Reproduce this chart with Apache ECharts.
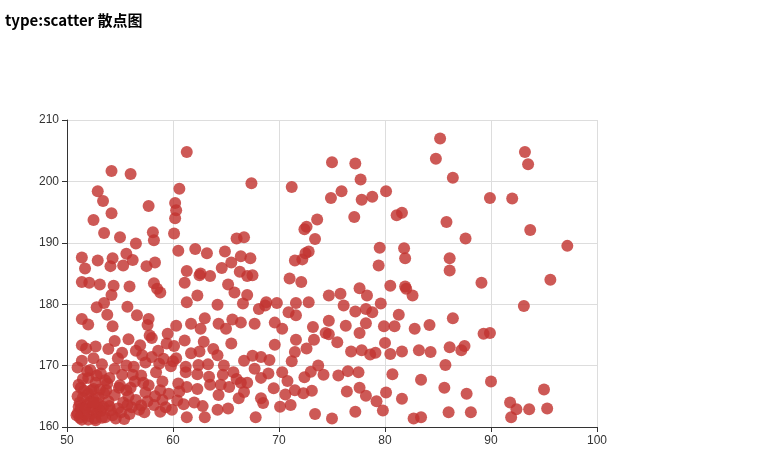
<!DOCTYPE html>
<html><head><meta charset="utf-8">
<script src="https://cdn.jsdelivr.net/npm/echarts@6/dist/echarts.min.js"></script>
</head><body style="margin:0">
<div id="c" style="width:780px;height:462px"></div>
<script>
const titleText = 'type:scatter 散点图';
const xTicks = [50, 100, 10];
const yTicks = [160, 210, 10];
const pointsTop = [
[61.3,204.8],[85.2,207],[84.8,203.7],[75,203.1],[77.2,202.9],[93.2,204.8],[93.5,202.8],[86.4,200.6],[77.7,200.3],[67.4,199.7],
[71.2,199.1],[60.6,198.8],[54.2,201.7],[56,201.2],[52.9,198.4],[53.4,196.8],[57.7,196],[60.2,196.5],[60.3,195.3],[60.2,194],
[60.1,191.5],[54.2,194.8],[52.5,193.7],[53.5,191.6],[55,190.9],[75.9,198.4],[74.9,197.3],[77.8,197],[89.9,197.3],[92,197.2],
[80.1,198.4],[78.8,197.5],[81.6,194.9],[81.1,194.5],[85.8,193.4],[77.1,194.2],[73.6,193.8],[72.6,192.6],[72.4,192.2],[73.4,190.6],
[66.7,190.9],[66,190.7],[63.2,188.3],[62.1,189],[60.5,188.7],[58.1,191.7],[58.2,190.4],[56.5,189.9],[55.6,188.2],[54.3,187.5],
[52.9,187.1],[51.4,187.6],[51.7,185.8],[54.1,186.2],[55.3,186.3],[56.2,187.2],[57.5,186.2],[58.3,186.8],[61.3,185.4],[62.6,185],
[64.9,188.6],[65.5,186.8],[66.4,187.8],[67.3,187.5],[66.3,185.3],[67,184.6],[67.5,184.7],[71.5,187.1],[72.2,187.3],[72.5,188.3],
[72.8,188.6],[79.5,189.2],[79.4,186.3],[81.8,189.1],[81.9,187.5],[86.1,187.5],[86.1,185.5],[87.6,190.7],[93.7,192.1],[97.2,189.5],
[89.1,183.5],[95.6,184],[93.1,179.7],[81.9,182.9],[80.5,183],[82,182.5],[78.3,181.4],[77.6,182.6],[75.8,181.7],[74.7,181.4],
[72.1,183.6],[71,184.2],[68.8,180.3],[68.7,179.8],[68.1,179.2],[67,181.5],[65.2,183.2],[64.6,185.9],[63.5,184.6],[62.5,184.7],
[61.1,183.5],[58.5,182.5],[58.2,183.4],[58.8,181.9],[55.9,182.9],[54.4,183],[53.1,183.2],[52.1,183.5],[51.4,183.6],[55.7,179.6],
[54.2,181.5],[53.5,180.2],[52.8,179.5],[61.3,180.3],[62.3,181.4],[64.2,179.9],[65.8,181.9],[66.6,180.1],[69.8,180.2],[71.6,180.2],
[71.6,178.2],[72.8,180.3],[76.1,179.8],[78.2,179.2],[79.6,180.1],[82.6,181.4],[86.4,177.7],[84.2,176.6],[80.9,176.4],[79.9,176.4],
[78.2,176.9],[77.2,178.8],[74.7,175.1],[73.3,174.2],[72.6,172.8],[71.5,172.2],[70.3,176],[70.9,178.7],[69.6,177],[67.7,176.8],[66.4,177]
];
const pointsMid = [
[51.4,177.6],[52,176.7],[53.8,178.3],[54.3,176.4],[56.6,178.2],[57.7,177.6],[57.6,176.6],[58,174.5],[59.4,173.6],[60.1,173.2],
[60.3,176.5],[61.7,176.8],[62.6,176],[63,177.7],[64.3,176.8],[65.6,177.5],[65,176],[65.5,173.6],[62.5,172.3],[61.7,172],[60.3,171.2],
[59.1,171.1],[58.6,172.4],[57.1,171.7],[56.5,172.4],[55.2,172.1],[53.9,172.7],[52.7,173.1],[51.4,173.3],[51.8,172.8],[52.5,171.2],
[53.3,170.2],[54.5,169.5],[55.6,170],[56.2,168.5],[57,168.4],[58.4,168.9],[59.8,169.9],[61.2,168.9],[62.4,170.1],[63.3,170.2],
[64.2,171.7],[64.8,170],[65.7,168.9],[66.7,170.8],[67.5,171.6],[68.3,171.4],[69.1,170.9],[70.3,168.9],[71.2,170.7],[73,169],
[74.2,168.5],[75.6,168.4],[76.5,169.1],[77.5,168.9],[78.6,171.8],[79.1,172.1],[80.5,171.9],[80.7,168.6],[81.6,172.3],[83.2,172.5],
[84.3,172.2],[86.1,173],[87.2,172.5],[87.5,173.2],[89.3,175.2],[89.9,175.3],[90,167.4],[85.7,170.1],[83.4,167.7],[77.8,172.5],
[76.8,172.3],[75.5,173.8],[74.4,175.3],[77.6,175.3],[52.2,169.3],[51,169.7],[51.5,167.8],[52.5,166.2],[53.8,167.1],[55,166.8],
[56.4,167.4],[57.7,166.8],[59,167.4],[60.5,167.1],[61.3,166.5],[62.3,166.2],[63.5,166.9],[64.5,166.9],[65.3,166.5],[66.7,165.7],
[68.3,164.7],[69.5,166.3],[70.6,165.3],[71.5,166],[72.3,165.5],[73.1,165.9],[76.4,165.8],[77.6,166.4],[78.2,165.1],[79.2,164.2],
[80.1,165.6],[81.6,164.6],[85.6,166.4],[87.7,165.4],[91.8,164],[95,166.1],[92.4,162.9],[91.9,161.6],[93.6,162.9],[95.3,163],
[88.1,162.4],[86,162.4],[83.4,161.6],[82.7,161.4],[79.8,162.7],[77.2,162.5],[75,161.4],[73.4,162.1],[71.1,163.6],[70.1,163.3],
[68.5,163.9],[67.8,161.6],[66.2,164.7],[65.2,163],[64.2,162.8],[63,161.6],[61.3,161.6],[59.9,162.8],[58.8,162.5],[57.3,162.4],
[55.9,162.1],[55.1,162.4],[54,163.4],[53,163.1],[51.3,163],[51.2,161.5],[52.6,161.4]
];
const pointsCluster = [
[51,165],[51.5,164.8],[52,165.4],[52.5,164.5],[53,164.8],[53.5,165.5],[51.2,164],[51.8,163.6],[52.3,163.2],[53.2,162.6],
[51,162.2],[51.6,162],[52.1,161.8],[52.8,162.3],[53.6,161.6],[54.3,161.9],[54.8,163],[55.3,164],[55.8,165],[56.5,164.4],
[57,163.5],[57.6,164.2],[58.3,165],[59,164.4],[59.6,165.4],[60.4,164.3],[61,163.7],[62,164],[51.3,166.4],[52.7,167.2],
[54,168],[55.2,168.5],[56.3,169.8],[57.4,170.5],[58.7,170.3],[60,170.7],[61.2,169.8],[62.3,168.6],[63.4,168.2],[64.7,168.5],
[66,167.8],[67,167.2],[68.3,168],[69,168.7],[70.8,167.5],[72.4,168.1],[73.7,170],[63.8,172.7],[62.9,173.9],[61.1,174.1],
[59.5,175.2],[57.8,174.9],[55.8,174.3],[54.5,174],[56.9,173.3],[58,171.4],[54.8,171.2],[53.2,168.7],[52,168],[51.4,170.8],
[53.7,166],[55.6,166],[57.4,165.6],[58.8,166],[60.6,165.8],[62.8,163.4],[64.3,165.2],[66.4,167.2],[67.7,169.5],[69.6,173.4],
[71.6,174.2],[73.2,176.3],[74.7,177.3],[76.3,176.5],[78.8,178.7],[81.3,178.3],[80,173.7],[82.8,176],[52.4,162.8],[53.9,164.2],
[51.1,163.3],[51.7,163],[52.2,164.1],[52.9,163.9],[53.4,163.3],[54.1,162.7],[51.4,161.2],[52,161.2],[52.7,161.1],[53.3,161.5],
[54.6,161.4],[55.4,161.3],[56.1,163.2],[56.8,162.8],[51.6,165.9],[52.3,166],[51.1,166.9],[53.1,166.1],[54.5,165.2],[54.9,166.4],
[55.7,163.6],[53.6,167.6],[52.8,168.4],[51.9,169.1],[56,166.4],[57.2,167.2],[58.2,163.6],[59.3,163.2],[50.9,161.9],[52.5,164]
];
const allPoints = pointsTop.concat(pointsMid, pointsCluster);
const chart = echarts.init(document.getElementById('c'));
chart.setOption({
  animation:false,
  title:{text:titleText,left:0,top:8,textStyle:{fontSize:15,fontWeight:'bold',color:'#000',fontFamily:'Noto Sans CJK SC'}},
  grid:{left:67,right:183,top:120,bottom:35},
  xAxis:{type:'value',min:xTicks[0],max:xTicks[1],interval:xTicks[2],
    axisLine:{lineStyle:{color:'#333'}},axisTick:{lineStyle:{color:'#333'}},
    axisLabel:{color:'#333',fontSize:12},splitLine:{show:true,lineStyle:{color:'#ddd'}}},
  yAxis:{type:'value',min:yTicks[0],max:yTicks[1],interval:yTicks[2],
    axisLine:{show:true,lineStyle:{color:'#333'}},axisTick:{show:true,lineStyle:{color:'#333'}},
    axisLabel:{color:'#333',fontSize:12},splitLine:{show:true,lineStyle:{color:'#ddd'}}},
  series:[{type:'scatter',data:allPoints,symbolSize:12,itemStyle:{color:'#c23531',opacity:0.82}}]
});
</script></body></html>
